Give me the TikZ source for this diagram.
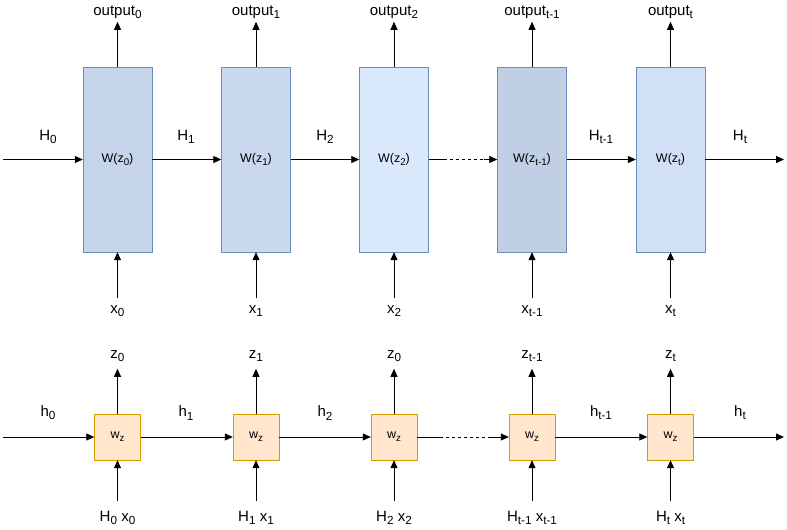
\documentclass[tikz,border=0pt]{standalone}
\usepackage{fontspec}
\setmainfont{Liberation Sans}
\usetikzlibrary{arrows.meta}
\definecolor{bstroke}{HTML}{6C8EBF}
\definecolor{ostroke}{HTML}{D79B00}
\definecolor{ofill}{HTML}{FFE6CC}
\definecolor{c0}{HTML}{C6D4EA}
\definecolor{c1}{HTML}{CAD8ED}
\definecolor{c2}{HTML}{DAE8FC}
\definecolor{c3}{HTML}{C0CFE3}
\definecolor{c4}{HTML}{D1E0F5}
\newcommand{\sub}[1]{\raisebox{-0.4ex}{\scalebox{0.78}{#1}}}
\begin{document}
\begin{tikzpicture}[x=1pt,y=-1pt,
  big/.style={draw=bstroke,minimum width=69pt,minimum height=185pt,inner sep=0pt,font=\fontsize{12.5}{14}\selectfont},
  small/.style={draw=ostroke,fill=ofill,minimum width=46pt,minimum height=46pt,inner sep=0pt,font=\fontsize{12.5}{14}\selectfont},
  lbl/.style={font=\fontsize{15}{17}\selectfont,inner sep=0pt},
  arr/.style={-{Triangle[length=8pt,width=7pt]},line width=0.8pt},
  ln/.style={line width=0.8pt}]
\useasboundingbox (0,0) rectangle (787,530);
\foreach \n/\x/\c/\lab in {0/117.5/c0/{W(z\sub{0})},1/256/c1/{W(z\sub{1})},2/394/c2/{W(z\sub{2})},3/532/c3/{W(z\sub{t-1})},4/670.5/c4/{W(z\sub{t})}}{
  \node[big,fill=\c] (B\n) at (\x,159.5) {\lab};
  \node[small] (S\n) at (\x,437) {w\sub{z}};
}
\node[lbl] (o0) at (117.5,12) {output\sub{0}};
\node[lbl] (o1) at (256,12) {output\sub{1}};
\node[lbl] (o2) at (394,12) {output\sub{2}};
\node[lbl] (o3) at (532,12) {output\sub{t-1}};
\node[lbl] (o4) at (670.5,12) {output\sub{t}};
\node[lbl] (x0) at (117.5,311) {x\sub{0}};
\node[lbl] (x1) at (256,311) {x\sub{1}};
\node[lbl] (x2) at (394,311) {x\sub{2}};
\node[lbl] (x3) at (532,311) {x\sub{t-1}};
\node[lbl] (x4) at (670.5,311) {x\sub{t}};
\foreach \n in {0,...,4}{
  \draw[arr] (B\n.north) -- ++(0,-45);
  \draw[arr] (B\n.south) ++(0,46) -- (B\n.south);
  \draw[arr] (S\n.north) -- ++(0,-45);
  \draw[arr] (S\n.south) ++(0,41) -- (S\n.south);
}
\coordinate (tl) at (3,159.5);
\coordinate (tr) at (784,159.5);
\draw[arr] (tl) -- (B0.west);
\draw[arr] (B0) -- (B1);
\draw[arr] (B1) -- (B2);
\draw[ln] (B2.east) -- ++(15,0) coordinate (d1);
\draw[ln,dashed] (d1) -- ++(40,0) coordinate (d2);
\draw[arr] (d2) -- (B3.west);
\draw[arr] (B3) -- (B4);
\draw[arr] (B4.east) -- (tr);
\node[lbl] (H0) at (48,137) {H\sub{0}};
\node[lbl] (H1) at (186,137) {H\sub{1}};
\node[lbl] (H2) at (325,137) {H\sub{2}};
\node[lbl] (H3) at (601,137) {H\sub{t-1}};
\node[lbl] (H4) at (740,137) {H\sub{t}};
\node[lbl] (z0) at (117.5,356) {z\sub{0}};
\node[lbl] (z1) at (256,356) {z\sub{1}};
\node[lbl] (z2) at (394,356) {z\sub{0}};
\node[lbl] (z3) at (532,356) {z\sub{t-1}};
\node[lbl] (z4) at (670.5,356) {z\sub{t}};
\node[lbl] (i0) at (117.5,518) {H\sub{0} x\sub{0}};
\node[lbl] (i1) at (256,518) {H\sub{1} x\sub{1}};
\node[lbl] (i2) at (394,518) {H\sub{2} x\sub{2}};
\node[lbl] (i3) at (532,518) {H\sub{t-1} x\sub{t-1}};
\node[lbl] (i4) at (670.5,518) {H\sub{t} x\sub{t}};
\coordinate (bl) at (3,437);
\coordinate (br) at (784,437);
\draw[arr] (bl) -- (S0.west);
\draw[arr] (S0) -- (S1);
\draw[arr] (S1) -- (S2);
\draw[ln] (S2.east) -- ++(23,0) coordinate (e1);
\draw[ln,dashed] (e1) -- ++(48,0) coordinate (e2);
\draw[arr] (e2) -- (S3.west);
\draw[arr] (S3) -- (S4);
\draw[arr] (S4.east) -- (br);
\node[lbl] (h0) at (48,413) {h\sub{0}};
\node[lbl] (h1) at (186,413) {h\sub{1}};
\node[lbl] (h2) at (325,413) {h\sub{2}};
\node[lbl] (h3) at (601,413) {h\sub{t-1}};
\node[lbl] (h4) at (740,413) {h\sub{t}};
\end{tikzpicture}
\end{document}
